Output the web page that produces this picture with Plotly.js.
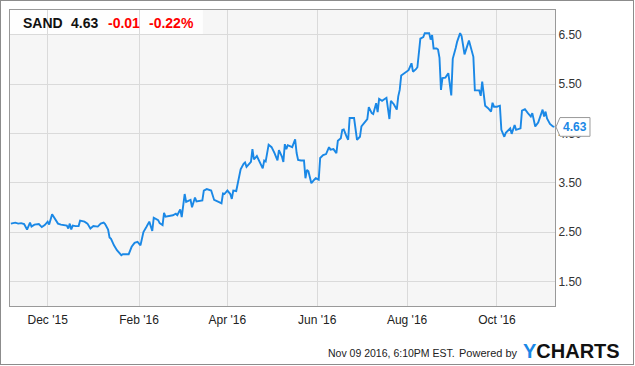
<!DOCTYPE html>
<html>
<head>
<meta charset="utf-8">
<script src="https://cdn.plot.ly/plotly-3.0.1.min.js"></script>
<style>
  html, body { margin: 0; padding: 0; background: #fff; }
  #wrap { position: relative; width: 635px; height: 366px; }
  #chart { width: 635px; height: 366px; }
  #frame { position: absolute; left: 0; top: 0; width: 632px; height: 363px; border: 1px solid #8c8c8c; pointer-events: none; }
</style>
</head>
<body>
<div id="wrap"><div id="chart"></div><div id="frame"></div></div>
<script>
const ticker = "SAND";
const change = "-0.01";
const changePct = "-0.22%";

const dates = [
 "2015-11-06","2015-11-09","2015-11-11","2015-11-13","2015-11-15","2015-11-17","2015-11-19","2015-11-20","2015-11-22","2015-11-25",
 "2015-11-27","2015-11-29","2015-12-01","2015-12-02","2015-12-04","2015-12-06","2015-12-08","2015-12-10","2015-12-14","2015-12-15",
 "2015-12-16","2015-12-17","2015-12-18","2015-12-20","2015-12-22","2015-12-23","2015-12-26","2015-12-28","2015-12-30","2016-01-01",
 "2016-01-04","2016-01-06","2016-01-08","2016-01-09","2016-01-11","2016-01-12","2016-01-13","2016-01-15","2016-01-17","2016-01-20",
 "2016-01-21","2016-01-25","2016-01-27","2016-01-29","2016-01-31","2016-02-02","2016-02-03","2016-02-04","2016-02-06","2016-02-08",
 "2016-02-10","2016-02-11","2016-02-14","2016-02-15","2016-02-17","2016-02-18","2016-02-19","2016-02-22","2016-02-24","2016-02-26",
 "2016-02-27","2016-02-28","2016-02-29","2016-03-01","2016-03-03","2016-03-04","2016-03-06","2016-03-07","2016-03-08","2016-03-10",
 "2016-03-11","2016-03-15","2016-03-16","2016-03-18","2016-03-21","2016-03-23","2016-03-26","2016-03-28","2016-03-29","2016-03-30",
 "2016-04-01","2016-04-03","2016-04-04","2016-04-05","2016-04-07","2016-04-09","2016-04-10","2016-04-12","2016-04-13","2016-04-14",
 "2016-04-16","2016-04-17","2016-04-18","2016-04-19","2016-04-21","2016-04-23","2016-04-25","2016-04-26","2016-04-27","2016-04-29",
 "2016-05-01","2016-05-03","2016-05-05","2016-05-06","2016-05-08","2016-05-09","2016-05-10","2016-05-11","2016-05-12","2016-05-15",
 "2016-05-17","2016-05-18","2016-05-19","2016-05-21","2016-05-23","2016-05-24","2016-05-25","2016-05-26","2016-05-28","2016-05-30",
 "2016-05-31","2016-06-02","2016-06-03","2016-06-05","2016-06-07","2016-06-09","2016-06-10","2016-06-12","2016-06-14","2016-06-15",
 "2016-06-17","2016-06-18","2016-06-19","2016-06-21","2016-06-22","2016-06-23","2016-06-26","2016-06-28","2016-06-30","2016-07-01",
 "2016-07-03","2016-07-05","2016-07-06","2016-07-08","2016-07-09","2016-07-11","2016-07-12","2016-07-13","2016-07-15","2016-07-17",
 "2016-07-18","2016-07-20","2016-07-21","2016-07-23","2016-07-25","2016-07-26","2016-07-27","2016-07-28","2016-07-31","2016-08-02",
 "2016-08-04","2016-08-05","2016-08-07","2016-08-08","2016-08-10","2016-08-12","2016-08-13","2016-08-15","2016-08-16","2016-08-17",
 "2016-08-18","2016-08-19","2016-08-21","2016-08-22","2016-08-23","2016-08-24","2016-08-25","2016-08-27","2016-08-29","2016-08-31",
 "2016-09-01","2016-09-03","2016-09-04","2016-09-06","2016-09-07","2016-09-09","2016-09-12","2016-09-15","2016-09-16","2016-09-19",
 "2016-09-20","2016-09-21","2016-09-22","2016-09-23","2016-09-25","2016-09-27","2016-09-28","2016-09-29","2016-10-01","2016-10-03",
 "2016-10-04","2016-10-06","2016-10-07","2016-10-10","2016-10-11","2016-10-13","2016-10-14","2016-10-17","2016-10-18","2016-10-20",
 "2016-10-22","2016-10-24","2016-10-25","2016-10-27","2016-10-29","2016-10-30","2016-11-01","2016-11-02","2016-11-03","2016-11-04",
 "2016-11-06","2016-11-08","2016-11-09"
];

const prices = [
 2.67,2.69,2.67,2.68,2.66,2.55,2.69,2.61,2.65,2.66,
 2.60,2.64,2.71,2.65,2.86,2.77,2.67,2.65,2.63,2.57,
 2.67,2.55,2.63,2.62,2.62,2.73,2.71,2.67,2.57,2.62,
 2.61,2.67,2.69,2.66,2.55,2.39,2.36,2.23,2.13,2.03,
 2.05,2.05,2.20,2.28,2.30,2.23,2.37,2.50,2.60,2.71,
 2.52,2.79,2.74,2.68,2.64,2.89,2.81,2.82,2.84,2.87,
 2.84,2.90,2.96,2.80,3.27,3.11,3.13,3.15,3.00,3.20,
 3.12,3.14,3.34,3.37,3.34,3.15,3.11,3.08,3.28,3.27,
 3.34,3.27,3.17,3.34,3.33,3.59,3.77,3.88,3.91,3.82,
 3.89,3.92,4.18,3.97,4.04,3.93,3.79,3.95,3.93,4.27,
 4.22,4.10,3.95,4.16,4.03,3.92,4.28,4.18,4.26,4.22,
 4.38,4.10,3.96,3.95,3.95,3.59,3.76,3.73,3.49,3.56,
 3.59,3.56,4.00,4.06,4.08,4.22,4.17,4.18,4.10,4.35,
 4.40,4.57,4.58,4.43,4.37,4.81,4.81,4.37,4.43,4.64,
 4.71,4.79,5.03,4.91,4.89,5.11,4.93,5.20,5.16,5.20,
 5.22,4.79,5.16,5.09,4.98,5.25,5.38,5.67,5.74,5.78,
 5.92,5.75,5.80,5.84,6.42,6.45,6.53,6.53,6.53,6.40,
 6.49,6.22,6.22,6.20,6.03,5.38,5.62,5.63,5.72,5.27,
 6.01,6.23,6.36,6.53,6.47,6.10,6.38,6.05,5.37,5.37,
 5.26,5.55,5.26,5.06,5.01,4.94,5.12,5.04,5.04,5.06,
 4.57,4.43,4.51,4.60,4.49,4.67,4.57,4.60,4.96,4.99,
 4.91,4.84,4.91,4.64,4.72,4.80,4.98,4.84,4.94,4.80,
 4.69,4.64,4.63
];

const xTickVals = ["2015-12-01","2016-02-01","2016-04-01","2016-06-01","2016-08-01","2016-10-01"];
const xTickText = ["Dec '15","Feb '16","Apr '16","Jun '16","Aug '16","Oct '16"];
const yTickVals = [1.5, 2.5, 3.5, 4.5, 5.5, 6.5];
const footerStamp = "Nov 09 2016, 6:10PM EST.";

const FONT = "'Liberation Sans', Arial, sans-serif";
const BLUE = "#1a88e6";
const last = prices[prices.length - 1];
const halfTag = 0.19;

const trace = {
  x: dates, y: prices, type: "scatter", mode: "lines",
  line: { color: BLUE, width: 1.9 }, hoverinfo: "skip"
};

const layout = {
  width: 635, height: 366,
  margin: { l: 10, r: 80, t: 10, b: 60, pad: 0 },
  paper_bgcolor: "#ffffff",
  plot_bgcolor: "#f6f6f6",
  showlegend: false,
  font: { family: FONT, size: 12, color: "#333" },
  xaxis: {
    type: "date",
    range: ["2015-11-05 10:00", "2016-11-09 10:00"],
    tickmode: "array", tickvals: xTickVals, ticktext: xTickText,
    showgrid: true, gridcolor: "#dadada", gridwidth: 1,
    showline: true, linecolor: "#999", linewidth: 1, mirror: true,
    ticks: "", zeroline: false, fixedrange: true,
    ticklabelstandoff: 3,
    tickfont: { family: FONT, size: 12, color: "#222" }
  },
  yaxis: {
    side: "right",
    range: [1, 7],
    tickmode: "array", tickvals: yTickVals, ticktext: yTickVals.map(v => v.toFixed(2)),
    showgrid: true, gridcolor: "#dadada", gridwidth: 1,
    showline: true, linecolor: "#999", linewidth: 1, mirror: true,
    ticks: "", zeroline: false, fixedrange: true,
    ticklabelstandoff: 0,
    tickfont: { family: FONT, size: 12, color: "#333" }
  },
  shapes: [
    { type: "rect", xref: "paper", yref: "paper", x0: 0, x1: 0.354, y0: 0.9155, y1: 1,
      fillcolor: "#ffffff", opacity: 0.85, line: { width: 0 }, layer: "below" },
    { type: "path", xref: "paper", yref: "y", layer: "above",
      path: `M 1.0018 ${last} L 1.0092 ${last + halfTag} L 1.0642 ${last + halfTag} L 1.0642 ${last - halfTag} L 1.0092 ${last - halfTag} Z`,
      fillcolor: "#ffffff", line: { color: "#9a9a9a", width: 1 } }
  ],
  annotations: [
    { xref: "paper", yref: "paper", x: 0.021, y: 0.956, xanchor: "left", yanchor: "middle", showarrow: false,
      text: "<b>" + ticker + "</b>", font: { family: FONT, size: 14, color: "#111" } },
    { xref: "paper", yref: "paper", x: 0.108, y: 0.956, xanchor: "left", yanchor: "middle", showarrow: false,
      text: "<b>" + last.toFixed(2) + "</b>", font: { family: FONT, size: 14, color: "#111" } },
    { xref: "paper", yref: "paper", x: 0.176, y: 0.956, xanchor: "left", yanchor: "middle", showarrow: false,
      text: "<b>" + change + "</b>", font: { family: FONT, size: 14, color: "#f00" } },
    { xref: "paper", yref: "paper", x: 0.251, y: 0.956, xanchor: "left", yanchor: "middle", showarrow: false,
      text: "<b>" + changePct + "</b>", font: { family: FONT, size: 14, color: "#f00" } },
    { xref: "paper", yref: "y", x: 1.0110, y: last, xanchor: "left", yanchor: "middle", showarrow: false,
      text: "<b>" + last.toFixed(2) + "</b>", font: { family: FONT, size: 12, color: BLUE } },
    { xref: "paper", yref: "paper", x: 0.820, y: -0.158, xanchor: "right", yanchor: "middle", showarrow: false,
      text: footerStamp, font: { family: FONT, size: 10.5, color: "#222" } },
    { xref: "paper", yref: "paper", x: 0.935, y: -0.158, xanchor: "right", yanchor: "middle", showarrow: false,
      text: "Powered by", font: { family: FONT, size: 11, color: "#222" } },
    { xref: "paper", yref: "paper", x: 0.938, y: -0.151, xanchor: "left", yanchor: "middle", showarrow: false,
      text: "<b><span style='color:" + BLUE + "'>Y</span>CHARTS</b>", font: { family: FONT, size: 20, color: "#111" } }
  ]
};

Plotly.newPlot("chart", [trace], layout, { staticPlot: true, displayModeBar: false });
</script>
</body>
</html>
